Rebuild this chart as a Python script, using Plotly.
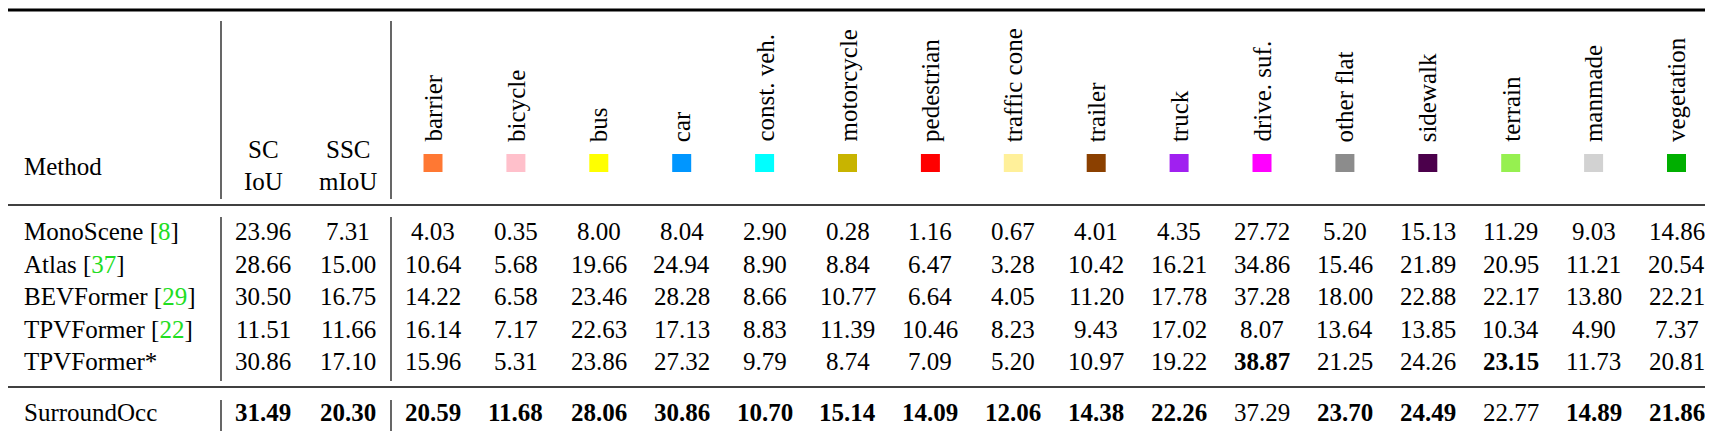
import plotly.graph_objects as go

# table content
methods = ["MonoScene", "Atlas", "BEVFormer", "TPVFormer", "TPVFormer*"]
refs = ["8", "37", "29", "22", ""]
classes = ["barrier", "bicycle", "bus", "car", "const. veh.", "motorcycle", "pedestrian",
           "traffic cone", "trailer", "truck", "drive. suf.", "other flat", "sidewalk",
           "terrain", "manmade", "vegetation"]
class_colors = ["#ff7833", "#ffc0cb", "#ffff00", "#0096ff", "#00ffff", "#c8b400", "#ff0000",
                "#fff09a", "#8b4000", "#a020f0", "#ff00ff", "#8c8c8c", "#4b004b",
                "#96f050", "#d2d2d2", "#00af00"]
sc_iou = ["23.96", "28.66", "30.50", "11.51", "30.86"]
ssc_miou = ["7.31", "15.00", "16.75", "11.66", "17.10"]
per_class = [
    ["4.03", "0.35", "8.00", "8.04", "2.90", "0.28", "1.16", "0.67", "4.01", "4.35", "27.72", "5.20", "15.13", "11.29", "9.03", "14.86"],
    ["10.64", "5.68", "19.66", "24.94", "8.90", "8.84", "6.47", "3.28", "10.42", "16.21", "34.86", "15.46", "21.89", "20.95", "11.21", "20.54"],
    ["14.22", "6.58", "23.46", "28.28", "8.66", "10.77", "6.64", "4.05", "11.20", "17.78", "37.28", "18.00", "22.88", "22.17", "13.80", "22.21"],
    ["16.14", "7.17", "22.63", "17.13", "8.83", "11.39", "10.46", "8.23", "9.43", "17.02", "8.07", "13.64", "13.85", "10.34", "4.90", "7.37"],
    ["15.96", "5.31", "23.86", "27.32", "9.79", "8.74", "7.09", "5.20", "10.97", "19.22", "38.87", "21.25", "24.26", "23.15", "11.73", "20.81"],
]
bold_cells = {(4, 10), (4, 13)}
ours_name = "SurroundOcc"
ours_sc = "31.49"
ours_ssc = "20.30"
ours_class = ["20.59", "11.68", "28.06", "30.86", "10.70", "15.14", "14.09", "12.06", "14.38",
              "22.26", "37.29", "23.70", "24.49", "22.77", "14.89", "21.86"]
ours_plain = {10, 13}

W, H = 1713, 436
FONT = "Liberation Serif, Times New Roman, serif"
FS = 25
GREEN = "#22dd22"

fig = go.Figure()
ann = []
shapes = []


def txt(x, y, s, xanchor="center", bold=False, angle=0, yanchor="middle"):
    if bold:
        s = "<b>" + s + "</b>"
    ann.append(dict(x=x, y=y, text=s, showarrow=False, xanchor=xanchor, yanchor=yanchor,
                    textangle=angle, font=dict(family=FONT, size=FS, color="black")))


def hline(y, w):
    shapes.append(dict(type="line", x0=0, x1=1710, y0=y, y1=y, line=dict(color="black", width=w)))


def vline(x, y0, y1):
    shapes.append(dict(type="line", x0=x, x1=x, y0=y0, y1=y1, line=dict(color="black", width=1.2)))


col_x = [425 + 82.9 * i for i in range(len(classes))]
x_sc, x_ssc = 255, 340
row_y = [223, 256, 288, 321, 353]
y_ours = 404

# rules
hline(2, 3)
hline(197, 1.5)
hline(379, 1.5)
hline(430, 3)
for x in (213, 383):
    vline(x, 13, 191)
    vline(x, 209, 373)
    vline(x, 392, 423)

# header
txt(14, 158, "Method", xanchor="left")
txt(x_sc, 141, "SC")
txt(x_sc, 173, "IoU")
txt(x_ssc, 141, "SSC")
txt(x_ssc, 173, "mIoU")
for x, name, c in zip(col_x, classes, class_colors):
    txt(x, 136, name, angle=-90, yanchor="bottom")
    shapes.append(dict(type="rect", x0=x - 9.5, x1=x + 9.5, y0=146, y1=164,
                       fillcolor=c, line=dict(width=0)))

# baseline rows
for r, (m, ref) in enumerate(zip(methods, refs)):
    label = m if not ref else m + " [<span style='color:%s'>%s</span>]" % (GREEN, ref)
    txt(14, row_y[r], label, xanchor="left")
    txt(x_sc, row_y[r], sc_iou[r])
    txt(x_ssc, row_y[r], ssc_miou[r])
    for c, v in enumerate(per_class[r]):
        txt(col_x[c], row_y[r], v, bold=(r, c) in bold_cells)

# our row
txt(14, y_ours, ours_name, xanchor="left")
txt(x_sc, y_ours, ours_sc, bold=True)
txt(x_ssc, y_ours, ours_ssc, bold=True)
for c, v in enumerate(ours_class):
    txt(col_x[c], y_ours, v, bold=c not in ours_plain)

fig.update_layout(
    width=W, height=H,
    margin=dict(l=0, r=0, t=0, b=0),
    plot_bgcolor="white", paper_bgcolor="white",
    xaxis=dict(range=[0, W], visible=False, fixedrange=True),
    yaxis=dict(range=[H, 0], visible=False, fixedrange=True),
    annotations=ann, shapes=shapes,
    showlegend=False,
)

fig.write_html("out.html")
